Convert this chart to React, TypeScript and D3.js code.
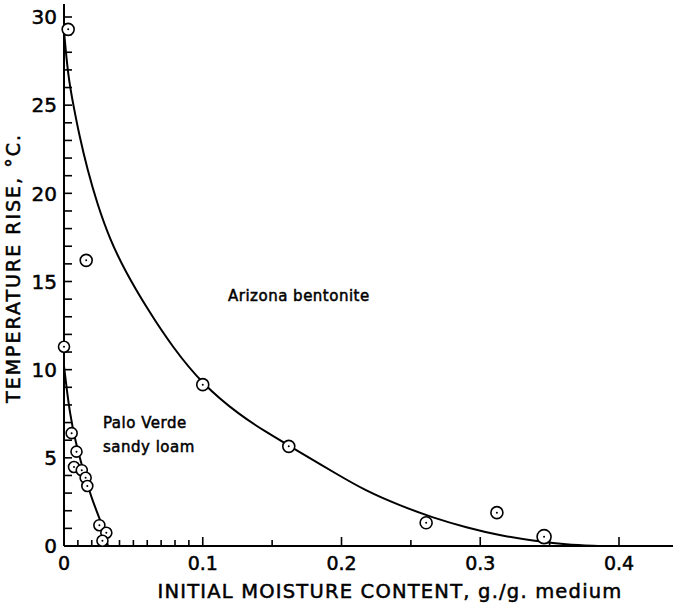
import React from "react";
import * as d3 from "d3";

const W = 675;
const H = 606;

// Tick values
const yTicksMajor = [0, 5, 10, 15, 20, 25, 30];
const yTicksMinor = d3.range(1, 31);
const xTickLabels = ["0", "0.1", "0.2", "0.3", "0.4"];
const xTicksMajor = [0.1, 0.2, 0.3, 0.4];
const xTicksMinor = [0.01, 0.02, 0.03, 0.04, 0.05, 0.06, 0.07, 0.08, 0.09, 0.15, 0.25, 0.35];

// Arizona bentonite observations
const bentX = [0.003, 0.016, 0.1, 0.162, 0.261, 0.312, 0.346];
const bentY = [29.3, 16.2, 9.15, 5.65, 1.32, 1.89, 0.53];

// Arizona bentonite fitted curve
const bentCurveX = [0, 0.003, 0.007, 0.011, 0.017, 0.024, 0.033, 0.044, 0.06, 0.078, 0.1, 0.127, 0.146, 0.162, 0.18, 0.194, 0.218, 0.242, 0.266, 0.29, 0.314, 0.338, 0.362, 0.385];
const bentCurveY = [29.2, 26.6, 24.9, 23.3, 21.3, 19.4, 17.4, 15.6, 13.45, 11.3, 9.15, 7.4, 6.45, 5.7, 4.85, 4.2, 3.1, 2.3, 1.6, 1.05, 0.6, 0.3, 0.08, 0];

// Palo Verde sandy loam observations
const paloX = [0.0, 0.0055, 0.009, 0.0072, 0.0128, 0.0156, 0.0168, 0.0255, 0.0305, 0.0277];
const paloY = [11.3, 6.4, 5.35, 4.48, 4.3, 3.87, 3.4, 1.18, 0.75, 0.3];

// Palo Verde fitted line
const paloCurveX = [0, 0.0019, 0.0043, 0.0079, 0.0151, 0.0211, 0.0272, 0.0308, 0.0318];
const paloCurveY = [10.2, 8.94, 7.53, 6.0, 3.93, 2.42, 1.29, 0.24, 0];

const FONT = "'DejaVu Sans', 'Liberation Sans', sans-serif";

export default function App() {
  const x = d3.scaleLinear().domain([0, 0.4]).range([64, 619]);
  const y = d3.scaleLinear().domain([0, 30]).range([546, 17]);

  const line = d3
    .line<[number, number]>()
    .x((d) => x(d[0]))
    .y((d) => y(d[1]))
    .curve(d3.curveBasis);

  const bentPath = line(bentCurveX.map((v, i) => [v, bentCurveY[i]] as [number, number])) || "";
  const paloPath = line(paloCurveX.map((v, i) => [v, paloCurveY[i]] as [number, number])) || "";

  const x0 = x(0);
  const y0 = y(0);

  const textStroke = { stroke: "#000", strokeWidth: 0.5 };

  return (
    <svg width={W} height={H} style={{ position: "absolute", left: 0, top: 0, background: "#fff" }}>
      <rect width={W} height={H} fill="#fff" />
      {/* axes */}
      <line x1={x0} y1={y0} x2={673} y2={y0} stroke="#000" strokeWidth={2} />
      <line x1={x0} y1={y0} x2={x0} y2={4} stroke="#000" strokeWidth={2} />

      {/* y ticks */}
      {yTicksMinor.map((t) => (
        <line key={"yt" + t} x1={x0} x2={x0 + 8} y1={y(t)} y2={y(t)} stroke="#000" strokeWidth={1.6} />
      ))}
      {yTicksMajor.map((t) => (
        <text
          key={"yl" + t}
          x={57}
          y={y(t)}
          dy="0.36em"
          textAnchor="end"
          fontFamily={FONT}
          fontSize={20}
          fill="#000"
          {...textStroke}
        >
          {t}
        </text>
      ))}

      {/* x ticks */}
      {xTicksMajor.map((t) => (
        <line key={"xM" + t} x1={x(t)} x2={x(t)} y1={y0} y2={y0 - 9} stroke="#000" strokeWidth={1.6} />
      ))}
      {xTicksMinor.map((t) => (
        <line key={"xm" + t} x1={x(t)} x2={x(t)} y1={y0} y2={y0 - 6} stroke="#000" strokeWidth={1.6} />
      ))}
      {xTickLabels.map((l, i) => (
        <text
          key={"xl" + l}
          x={x(i * 0.1)}
          y={570}
          textAnchor="middle"
          fontFamily={FONT}
          fontSize={19}
          fill="#000"
          {...textStroke}
        >
          {l}
        </text>
      ))}

      {/* curves */}
      <path d={bentPath} fill="none" stroke="#000" strokeWidth={2} />
      <path d={paloPath} fill="none" stroke="#000" strokeWidth={2} />

      {/* points */}
      {bentX.map((v, i) => (
        <g key={"b" + i}>
          <circle cx={x(v)} cy={y(bentY[i])} r={i === 6 ? 7 : 6} fill="#fff" stroke="#000" strokeWidth={1.6} />
          <circle cx={x(v)} cy={y(bentY[i])} r={1} fill="#000" />
        </g>
      ))}
      {paloX.map((v, i) => (
        <g key={"p" + i}>
          <circle cx={x(v)} cy={y(paloY[i])} r={5.5} fill="#fff" stroke="#000" strokeWidth={1.6} />
          <circle cx={x(v)} cy={y(paloY[i])} r={1} fill="#000" />
        </g>
      ))}

      {/* annotations */}
      <text x={228} y={301} fontFamily={FONT} fontSize={15} fill="#000" letterSpacing={0.5} {...textStroke}>
        Arizona bentonite
      </text>
      <text x={103} y={428} fontFamily={FONT} fontSize={15} fill="#000" letterSpacing={0.5} {...textStroke}>
        Palo Verde
      </text>
      <text x={103} y={452} fontFamily={FONT} fontSize={15} fill="#000" letterSpacing={0.5} {...textStroke}>
        sandy loam
      </text>

      {/* axis titles */}
      <text
        x={390}
        y={598}
        textAnchor="middle"
        fontFamily={FONT}
        fontSize={19.5}
        fill="#000"
        letterSpacing={1.2}
        {...textStroke}
      >
        INITIAL MOISTURE CONTENT, g./g. medium
      </text>
      <text
        transform={`translate(20,268) rotate(-90)`}
        textAnchor="middle"
        fontFamily={FONT}
        fontSize={19}
        fill="#000"
        letterSpacing={2}
        {...textStroke}
      >
        TEMPERATURE RISE, °C.
      </text>
    </svg>
  );
}
